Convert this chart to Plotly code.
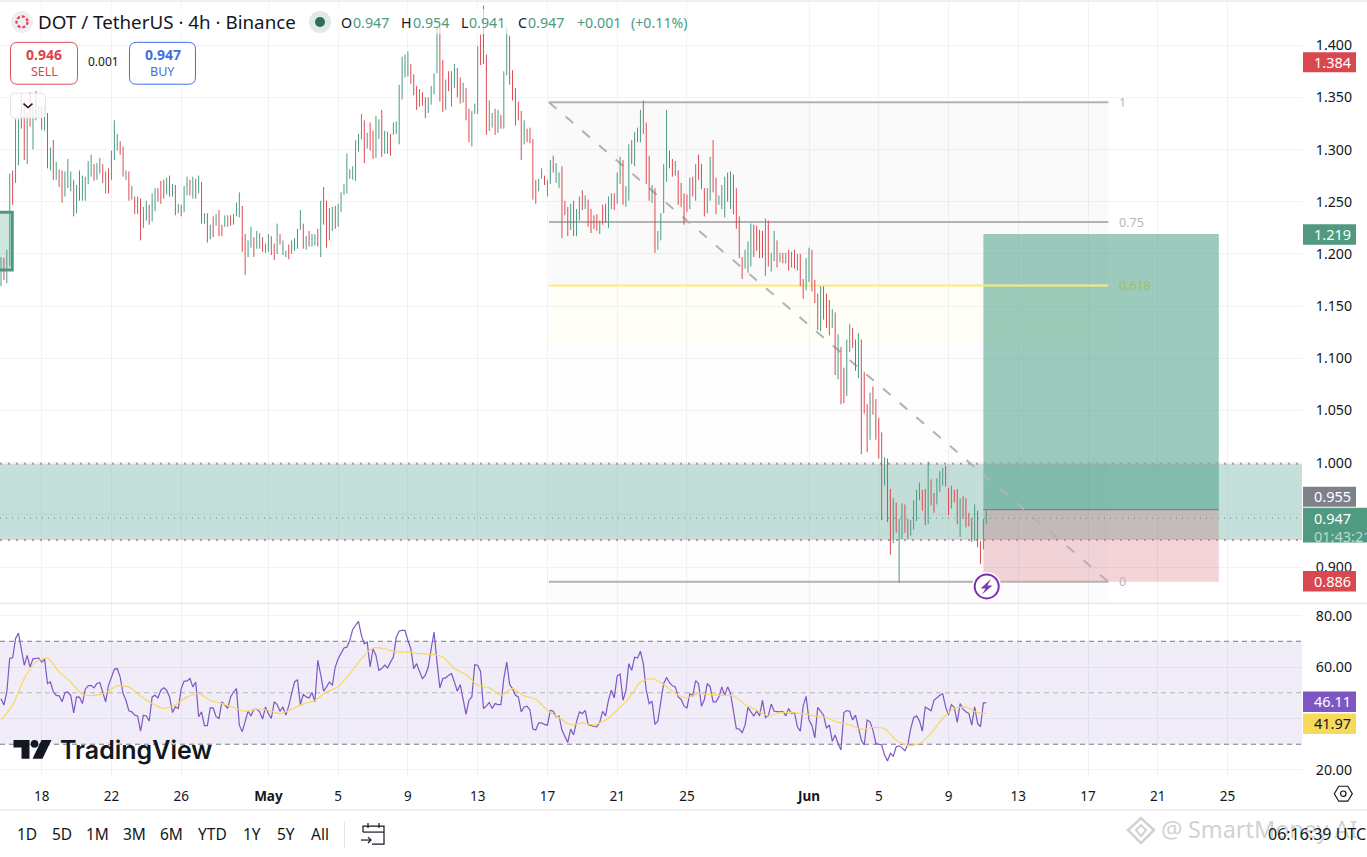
import pandas as pd
import plotly.graph_objects as go

FONT = "Noto Sans"
GREEN = "#4b9b83"
RED = "#dd4a50"
PURPLE = "#7e57c2"
YELLOW = "#f7d95c"
GRID = "#f1f2f5"
INK = "#131722"

first_bar = "2026-04-15 16:00"
highs = [
 1.197,1.196,1.204,1.277,1.280,1.329,1.329,1.353,1.347,1.336,
 1.355,1.342,1.356,1.342,1.342,1.342,1.335,1.302,1.309,1.288,
 1.281,1.280,1.279,1.291,1.279,1.271,1.266,1.280,1.275,1.274,
 1.289,1.295,1.286,1.287,1.292,1.286,1.279,1.282,1.299,1.328,
 1.315,1.308,1.303,1.280,1.279,1.265,1.255,1.255,1.253,1.245,
 1.251,1.247,1.258,1.263,1.263,1.270,1.271,1.273,1.275,1.267,
 1.266,1.248,1.247,1.265,1.274,1.271,1.274,1.272,1.275,1.269,
 1.239,1.239,1.228,1.236,1.238,1.242,1.228,1.237,1.237,1.237,
 1.238,1.249,1.259,1.246,1.219,1.213,1.226,1.216,1.222,1.220,
 1.216,1.210,1.219,1.217,1.210,1.229,1.219,1.213,1.203,1.209,
 1.213,1.215,1.224,1.242,1.229,1.217,1.222,1.219,1.219,1.224,
 1.251,1.264,1.251,1.244,1.245,1.246,1.248,1.259,1.267,1.296,
 1.281,1.284,1.309,1.315,1.334,1.328,1.316,1.326,1.318,1.332,
 1.329,1.338,1.318,1.317,1.315,1.326,1.327,1.362,1.389,1.391,
 1.394,1.382,1.372,1.361,1.358,1.355,1.350,1.350,1.361,1.373,
 1.418,1.418,1.386,1.367,1.375,1.375,1.382,1.378,1.369,1.364,
 1.359,1.339,1.337,1.344,1.399,1.410,1.438,1.391,1.347,1.335,
 1.339,1.338,1.333,1.375,1.417,1.409,1.376,1.359,1.346,1.337,
 1.328,1.320,1.321,1.310,1.271,1.272,1.282,1.275,1.271,1.290,
 1.294,1.287,1.278,1.284,1.251,1.245,1.248,1.251,1.243,1.255,
 1.261,1.256,1.252,1.243,1.237,1.238,1.232,1.247,1.248,1.255,
 1.258,1.258,1.278,1.293,1.290,1.265,1.305,1.309,1.317,1.321,
 1.338,1.347,1.326,1.294,1.266,1.263,1.222,1.239,1.286,1.338,
 1.299,1.291,1.289,1.280,1.268,1.258,1.257,1.273,1.274,1.286,
 1.295,1.286,1.263,1.263,1.293,1.309,1.273,1.256,1.266,1.274,
 1.278,1.279,1.276,1.263,1.236,1.197,1.204,1.212,1.229,1.228,
 1.227,1.223,1.222,1.234,1.232,1.201,1.222,1.213,1.201,1.201,
 1.201,1.204,1.202,1.204,1.200,1.200,1.176,1.196,1.206,1.204,
 1.175,1.162,1.169,1.169,1.162,1.156,1.147,1.144,1.123,1.111,
 1.091,1.118,1.133,1.129,1.118,1.124,1.118,1.087,1.056,1.067,
 1.073,1.061,1.043,1.029,1.005,1.004,0.975,0.966,0.962,0.946,
 0.961,0.960,0.946,0.945,0.964,0.974,0.981,0.974,0.975,1.001,
 0.984,0.971,0.985,0.992,0.995,0.997,0.976,0.978,0.974,0.975,
 0.966,0.968,0.966,0.952,0.947,0.960,0.954,0.925,0.946,0.954,
]
lows = [
 1.169,1.175,1.172,1.188,1.247,1.268,1.285,1.320,1.290,1.286,
 1.322,1.300,1.328,1.331,1.319,1.318,1.282,1.280,1.271,1.271,
 1.264,1.249,1.255,1.263,1.260,1.236,1.239,1.251,1.251,1.251,
 1.267,1.274,1.270,1.271,1.277,1.268,1.258,1.258,1.271,1.290,
 1.299,1.295,1.274,1.271,1.251,1.252,1.238,1.238,1.213,1.225,
 1.232,1.228,1.231,1.241,1.250,1.248,1.253,1.257,1.255,1.255,
 1.237,1.239,1.236,1.240,1.256,1.256,1.253,1.253,1.258,1.229,
 1.229,1.211,1.214,1.216,1.227,1.217,1.217,1.226,1.226,1.227,
 1.228,1.236,1.235,1.202,1.180,1.197,1.206,1.197,1.205,1.205,
 1.202,1.201,1.202,1.199,1.194,1.200,1.209,1.199,1.197,1.195,
 1.200,1.203,1.205,1.223,1.205,1.204,1.207,1.207,1.208,1.207,
 1.197,1.228,1.206,1.213,1.222,1.224,1.226,1.240,1.257,1.258,
 1.272,1.271,1.270,1.298,1.310,1.287,1.301,1.299,1.291,1.292,
 1.310,1.293,1.296,1.296,1.294,1.314,1.315,1.305,1.348,1.369,
 1.370,1.363,1.352,1.338,1.341,1.342,1.330,1.335,1.343,1.353,
 1.373,1.346,1.336,1.338,1.356,1.341,1.359,1.350,1.344,1.345,
 1.328,1.307,1.303,1.334,1.334,1.381,1.382,1.314,1.318,1.321,
 1.314,1.316,1.320,1.320,1.371,1.362,1.347,1.323,1.328,1.290,
 1.305,1.307,1.306,1.252,1.248,1.260,1.272,1.266,1.255,1.267,
 1.278,1.268,1.263,1.215,1.237,1.217,1.223,1.217,1.217,1.232,
 1.242,1.243,1.226,1.220,1.224,1.222,1.219,1.228,1.230,1.225,
 1.243,1.242,1.248,1.267,1.247,1.245,1.251,1.286,1.284,1.307,
 1.307,1.315,1.267,1.251,1.249,1.201,1.204,1.213,1.239,1.269,
 1.282,1.274,1.275,1.247,1.245,1.228,1.240,1.243,1.255,1.251,
 1.271,1.262,1.236,1.239,1.251,1.259,1.238,1.247,1.243,1.235,
 1.250,1.243,1.238,1.224,1.196,1.176,1.186,1.182,1.188,1.197,
 1.203,1.196,1.196,1.179,1.188,1.183,1.193,1.187,1.192,1.191,
 1.191,1.184,1.187,1.186,1.184,1.169,1.157,1.165,1.173,1.164,
 1.153,1.127,1.126,1.137,1.129,1.122,1.129,1.084,1.080,1.056,
 1.057,1.064,1.106,1.110,1.088,1.081,1.008,1.047,1.010,1.022,
 1.046,1.022,1.004,0.945,0.978,0.943,0.912,0.923,0.933,0.885,
 0.927,0.933,0.927,0.930,0.936,0.944,0.964,0.954,0.940,0.941,
 0.959,0.952,0.960,0.972,0.978,0.977,0.950,0.956,0.962,0.941,
 0.929,0.946,0.938,0.939,0.924,0.925,0.919,0.903,0.917,0.941,
]
directions = (
 "grggrggrrg" "rgrgrgrgrg" "rrgggrgrgg" "ggrggrgrgg" "grrgrgrgrg"
 "grggrrrgrg" "rgrggrgrgr" "grgrgrrggr" "gggrrggrgg" "rggrrgrggr"
 "ggggrgrggr" "grrggrgggg" "gggggrgrrg" "grggrggggg" "grrrgrrggg"
 "grrgrggrrg" "rrgggrrrgg" "rgrggrrrrr" "grrrrggrgg" "rggrrrgrgg"
 "rgrrrrgrrg" "grggrggrgg" "grrrgrgggg" "rrgrrrrgrg" "rrrggrrggg"
 "rgrrrrgggr" "rrrgrggrgr" "grgrgrrggr" "rrgrrrgrgr" "rggrrgrrrg"
 "rrrrgrrgrg" "grrggggrrg" "rrgggrrgrr" "grrrrgrrgg"
)
rsi = [
 47.7,45.2,50.3,63.5,63.5,71.0,73.2,67.1,60.7,64.5,
 60.0,63.2,63.5,63.5,61.9,63.0,53.6,54.2,50.3,49.0,
 48.8,46.5,50.1,50.3,49.0,42.2,48.4,48.3,45.8,51.4,
 52.7,52.9,51.9,53.6,54.0,49.7,46.5,52.9,56.1,59.1,
 59.4,56.1,49.7,47.1,43.0,42.6,41.3,41.0,35.1,41.3,
 41.0,39.0,48.4,49.0,48.0,51.0,51.9,51.0,48.4,42.3,
 44.5,43.9,51.6,54.5,54.5,55.5,52.3,54.2,40.7,42.6,
 37.2,37.2,44.1,44.1,40.7,40.0,46.5,45.2,43.9,48.4,
 50.3,51.6,37.4,34.9,38.7,42.8,41.0,43.6,43.6,42.6,
 39.8,44.5,41.9,40.0,46.5,45.4,42.8,44.5,41.3,44.9,
 49.7,54.2,55.1,45.4,49.4,48.4,48.0,50.1,46.5,62.6,
 57.0,50.6,52.3,54.2,52.9,60.0,63.2,65.2,67.4,67.7,
 70.3,74.6,76.1,77.7,72.3,69.0,69.7,60.0,67.1,64.5,
 58.7,59.4,60.7,59.6,61.9,63.9,71.6,74.0,74.2,74.2,
 70.3,67.1,59.4,61.3,58.3,55.5,56.8,60.0,67.1,73.6,
 61.9,51.9,55.5,55.8,56.8,57.4,54.2,50.6,53.2,47.7,
 41.6,47.1,48.4,60.9,60.7,58.3,43.9,44.9,46.2,43.9,
 45.8,45.4,45.4,
 55.5,61.9,53.2,51.6,49.0,48.4,42.6,44.5,44.8,43.2,
 35.9,35.5,38.3,38.3,37.7,37.4,43.2,42.8,40.7,41.0,
 35.5,32.9,30.7,35.9,33.6,38.7,42.6,41.9,43.2,37.7,
 37.2,36.9,36.8,38.5,42.8,41.0,47.1,51.0,48.0,56.5,
 57.3,47.1,50.6,61.3,58.7,63.8,63.5,66.1,61.3,51.0,
 45.8,46.7,37.7,39.0,46.5,53.6,55.9,53.9,52.7,52.3,
 48.4,47.4,44.9,44.1,49.7,48.8,54.7,53.6,44.8,47.4,
 53.6,52.3,46.5,46.5,48.4,52.3,49.0,52.3,49.7,41.9,
 36.1,35.9,34.5,37.4,44.3,42.6,41.0,42.8,41.0,47.1,
 40.4,41.0,45.6,42.8,42.6,42.6,42.8,41.0,43.9,41.9,
 42.3,36.8,35.1,44.9,48.6,39.4,37.4,32.5,44.3,42.8,
 41.3,36.4,37.4,31.2,33.6,30.3,27.8,42.3,43.1,42.8,
 39.4,41.3,36.4,31.6,29.7,39.4,38.7,35.5,30.3,29.9,
 29.7,25.8,23.5,26.5,25.4,29.0,29.4,28.6,27.5,29.9,
 36.1,40.3,41.0,39.1,35.1,44.5,43.9,43.0,47.1,48.1,
 49.0,49.6,44.5,41.3,45.4,44.3,38.5,45.8,43.6,42.6,
 42.0,37.4,44.5,38.1,36.8,46.1,46.11,
]
# RSI moving average, read every 4th bar, then the last bar
rsi_ma = [
 39.4,45.2,55.5,61.9,63.5,58.1,54.2,49.3,49.0,50.0,
 52.7,52.3,48.7,45.8,43.9,45.2,48.4,49.7,47.1,45.8,
 44.3,42.8,43.6,43.2,41.9,43.6,45.6,47.1,50.3,52.3,
 57.4,63.2,67.4,67.1,65.8,65.8,65.2,64.9,63.9,59.4,
 57.0,52.9,51.9,49.0,
 51.6,48.8,47.5,43.2,40.3,37.5,38.3,37.5,39.4,43.2,
 47.8,54.2,55.5,53.2,49.7,48.0,49.7,49.3,49.0,48.8,
 45.4,43.2,41.0,42.3,42.3,41.9,41.0,40.3,38.5,37.5,
 35.9,36.5,36.1,31.6,29.4,30.3,34.2,40.0,43.9,44.4,
 42.3,41.97,
]
x_tick_dates = ["2026-04-18","2026-04-22","2026-04-26","2026-05-01","2026-05-05","2026-05-09",
                "2026-05-13","2026-05-17","2026-05-21","2026-05-25","2026-06-01","2026-06-05",
                "2026-06-09","2026-06-13","2026-06-17","2026-06-21","2026-06-25"]
x_tick_text = ["18","22","26","<b>May</b>","5","9","13","17","21","25","<b>Jun</b>","5","9","13","17","21","25"]
price_ticks = [0.90,0.95,1.00,1.05,1.10,1.15,1.20,1.25,1.30,1.35,1.40]
price_tick_text = ["0.900","","1.000","1.050","1.100","1.150","1.200","1.250","1.300","1.350","1.400"]
rsi_ticks = [20,40,60,80]
rsi_tick_text = ["20.00","","60.00","80.00"]
x_range = ["2026-04-15 14:37","2026-06-29 06:29"]
price_range = [0.8657,1.4423]
rsi_range = [17.56,84.53]

fib_start, fib_end = "2026-05-17 02:00","2026-06-18 04:00"
fib_levels = [("1",1.3453),("0.75",1.2305),("0.618",1.1698),("0",0.886)]
fib_half = 1.1155
zone_top, zone_bottom = 0.9989, 0.9260
long_start, long_end = "2026-06-11 00:00","2026-06-24 12:00"
long_target, long_entry, long_stop = 1.219, 0.955, 0.886
last_price = 0.947
left_box = ("2026-04-14 00:00","2026-04-16 07:30",1.1846,1.240)

W, H = 1367, 857
OY = 1.0
px = lambda x: x / W
py = lambda y: 1 - (y + OY) / H

assert len(highs) == len(lows) == len(directions) == 340, (len(highs), len(lows), len(directions))
assert len(rsi) == 340, len(rsi)

bar_times = pd.date_range(first_bar, periods=340, freq="4h")
opens = [l if d == "g" else h for h, l, d in zip(highs, lows, directions)]
closes = [h if d == "g" else l for h, l, d in zip(highs, lows, directions)]
ma_index = list(range(0, 340, 4)) + [339]
assert len(ma_index) == len(rsi_ma), (len(ma_index), len(rsi_ma))

fig = go.Figure()
fig.add_trace(go.Ohlc(x=bar_times, open=opens, high=highs, low=lows, close=closes, tickwidth=0,
                      increasing=dict(line=dict(color=GREEN, width=1)),
                      decreasing=dict(line=dict(color=RED, width=1)),
                      hoverinfo="skip", showlegend=False, xaxis="x", yaxis="y"))
fig.add_trace(go.Scatter(x=bar_times, y=rsi, mode="lines", line=dict(color=PURPLE, width=1.2),
                         hoverinfo="skip", showlegend=False, xaxis="x2", yaxis="y2"))
fig.add_trace(go.Scatter(x=bar_times[ma_index], y=rsi_ma, mode="lines", line=dict(color=YELLOW, width=1.2, shape="spline", smoothing=0.6),
                         hoverinfo="skip", showlegend=False, xaxis="x2", yaxis="y2"))

shapes, notes = [], []

def rect_d(x0, x1, y0, y1, fill, line=None, lw=0, layer="between", xr="x", yr="y"):
    shapes.append(dict(type="rect", xref=xr, yref=yr, x0=x0, x1=x1, y0=y0, y1=y1, fillcolor=fill,
                       line=dict(color=line or "rgba(0,0,0,0)", width=lw), layer=layer))

def line_d(x0, x1, y0, y1, color, w=1, dash="solid", layer="between", xr="x", yr="y"):
    shapes.append(dict(type="line", xref=xr, yref=yr, x0=x0, x1=x1, y0=y0, y1=y1,
                       line=dict(color=color, width=w, dash=dash), layer=layer))

def ui_rect(x0, y0, x1, y1, fill, line=None, lw=0):
    shapes.append(dict(type="rect", xref="paper", yref="paper", x0=px(x0), x1=px(x1), y0=py(y1), y1=py(y0),
                       fillcolor=fill, line=dict(color=line or "rgba(0,0,0,0)", width=lw), layer="above"))

def ui_line(x0, y0, x1, y1, color, w=1):
    shapes.append(dict(type="line", xref="paper", yref="paper", x0=px(x0), x1=px(x1), y0=py(y0), y1=py(y1),
                       line=dict(color=color, width=w), layer="above"))

def ui_path(points, fill="rgba(0,0,0,0)", line=None, lw=0, close=True):
    d = "M " + " L ".join(f"{px(a):.5f},{py(b):.5f}" for a, b in points) + (" Z" if close else "")
    shapes.append(dict(type="path", xref="paper", yref="paper", path=d, fillcolor=fill,
                       line=dict(color=line or "rgba(0,0,0,0)", width=lw), layer="above"))

def ui_round(x0, y0, x1, y1, r, fill, line, lw=1):
    q = lambda a, b: f"{px(a):.5f},{py(b):.5f}"
    d = (f"M {q(x0+r,y0)} L {q(x1-r,y0)} Q {q(x1,y0)} {q(x1,y0+r)} L {q(x1,y1-r)} Q {q(x1,y1)} {q(x1-r,y1)} "
         f"L {q(x0+r,y1)} Q {q(x0,y1)} {q(x0,y1-r)} L {q(x0,y0+r)} Q {q(x0,y0)} {q(x0+r,y0)} Z")
    shapes.append(dict(type="path", xref="paper", yref="paper", path=d, fillcolor=fill,
                       line=dict(color=line, width=lw), layer="above"))

def ui_circle(cx, cy, r, fill, line=None, lw=0, dash="solid"):
    shapes.append(dict(type="circle", xref="paper", yref="paper", x0=px(cx-r), x1=px(cx+r), y0=py(cy+r), y1=py(cy-r),
                       fillcolor=fill, line=dict(color=line or "rgba(0,0,0,0)", width=lw, dash=dash), layer="above"))

def text(x, y, s, size=13, color=INK, anchor="left", weight=None, family=FONT):
    f = dict(family=family, size=size, color=color)
    if weight:
        f["weight"] = weight
    notes.append(dict(xref="paper", yref="paper", x=px(x), y=py(y), text=s, showarrow=False, xanchor=anchor,
                      yanchor="middle", font=f, borderpad=0, align="left"))

# fibonacci background
rect_d(fib_start, fib_end, fib_levels[2][1], fib_levels[0][1], "rgba(120,120,120,0.04)")
rect_d(fib_start, fib_end, fib_half, fib_levels[2][1], "rgba(255,240,90,0.05)")
rect_d(fib_start, fib_end, fib_levels[3][1], fib_half, "rgba(120,120,120,0.012)")
rect_d(fib_start, fib_end, price_range[0], fib_levels[3][1], "rgba(120,120,120,0.02)")
# support zone
rect_d(x_range[0], x_range[1], zone_bottom, zone_top, "rgba(62,152,132,0.30)")
# long position
rect_d(long_start, long_end, long_entry, long_target, "rgba(75,159,135,0.55)")
rect_d(long_start, long_end, long_stop, long_entry, "rgba(195,40,65,0.20)")
line_d(long_start, long_end, long_entry, long_entry, "#7d7f88", 1.2)
for yv in (zone_top, zone_bottom):
    line_d(x_range[0], x_range[1], yv, yv, "#d08a8a", 2, "2px,6px")
line_d(x_range[0], x_range[1], last_price, last_price, "#4f8f7c", 1, "1px,5px")
# fib lines
for name, lv in fib_levels:
    col = "#ffe97a" if name == "0.618" else "#b2b2b2"
    line_d(fib_start, fib_end, lv, lv, col, 2)
    notes.append(dict(xref="x", yref="y", x=fib_end, y=lv, text=name, showarrow=False, xanchor="left", yanchor="middle",
                      xshift=9, font=dict(family=FONT, size=12.5, color="#a5bd62" if name == "0.618" else "#b8b8b8")))
line_d(fib_start, fib_end, fib_levels[0][1], fib_levels[3][1], "#b2b2b2", 2, "10px,12px")
# old box at the left edge
rect_d(left_box[0], left_box[1], left_box[2], left_box[3], "rgba(62,152,132,0.25)", GREEN, 3)
# RSI band
rect_d(x_range[0], x_range[1], 30, 70, "rgba(126,87,194,0.115)", xr="x2", yr="y2")
for lv, col in ((70, "#787b86"), (50, "#b4b4bc"), (30, "#787b86")):
    line_d(x_range[0], x_range[1], lv, lv, col, 1, "5px,4px", xr="x2", yr="y2")

# frame lines
ui_line(0, 604.5, W, 604.5, "#e3e5ea", 1.2)
ui_line(0, 812, W, 812, "#e3e5ea", 1.2)
ui_line(0, 0.2, W, 0.2, "#e3e5ea", 1.2)

# header
ui_rect(0, 8, 700, 33, "rgba(255,255,255,0.65)")
ui_circle(22, 21, 11, "#f0eef5")
ui_circle(22, 21, 5.5, "rgba(0,0,0,0)", "#e0454f", 2.2, "3px,2px")
text(37, 21.5, "DOT&nbsp;/&nbsp;TetherUS · 4h · Binance", 18.8)
ui_circle(320, 21, 11, "#dfe9e6")
ui_circle(320, 21, 5, "#2e6b5a")
for x_lab, lab, x_val, val in ((340, "O", 352, "0.947"), (400, "H", 412, "0.954"),
                               (460, "L", 468, "0.941"), (517, "C", 527, "0.947")):
    text(x_lab, 21.5, lab, 14.2)
    text(x_val, 21.5, val, 14.2, GREEN)
text(576, 21.5, "+0.001", 14.2, GREEN)
text(630, 21.5, "(+0.11%)", 14.2, GREEN)

# sell / buy
ui_round(10.5, 41.5, 77.5, 83.5, 7, "white", "#d9505a", 1)
text(44, 53.5, "0.946", 14, "#d9454f", "center", 700)
text(44, 70.5, "SELL", 12.5, "#d9454f", "center")
text(103, 61, "0.001", 12, INK, "center")
ui_round(129.5, 41.5, 195.5, 83.5, 7, "white", "#3f6fe8", 1)
text(162.5, 53.5, "0.947", 14, "#3f6fe8", "center", 700)
text(162.5, 70.5, "BUY", 12.5, "#3f6fe8", "center")
ui_round(10.5, 92.5, 45.5, 117.5, 4, "rgba(255,255,255,0.8)", "#e0e3e8", 1)
ui_path([(23.5, 103), (28, 107), (32.5, 103)], line=INK, lw=1.5, close=False)

# price tags
tag_font = 14.5
def tag(y0, y1, fill, s, color="white", x1=1356):
    ui_rect(1303, y0, x1, y1, fill)
    text(1313, (y0 + y1) / 2 - 0.5, s, tag_font, color)
tag(51.5, 71.5, "#d9474f", "1.384")
tag(224, 244.5, "#4f9a80", "1.219")
tag(487.5, 507.5, "#7f818a", "0.955")
tag(572, 592.5, "#d9474f", "0.886")
ui_rect(1303, 508.5, W, 543.5, "#4f9a80")
text(1313, 519, "0.947", tag_font, "white")
text(1313, 537, "01:43:21", tag_font, "#b9dcd0")
tag(693, 713.5, PURPLE, "46.11")
tag(715, 735.5, YELLOW, "41.97", INK)

# lightning mark
ui_circle(986.7, 587.5, 14.5, "white")
ui_circle(986.7, 587.5, 12, "white", "#7b2fb0", 2)
ui_path([(991, 580), (980.5, 589.5), (985.5, 589.5), (982, 595.5), (992.5, 586.5), (987.5, 586.5)], fill="#7b3fb5")

# TradingView logo
ui_path([(13.5, 741.5), (29.5, 741.5), (29.5, 760.5), (21.5, 760.5), (21.5, 749), (13.5, 749)], fill="#131722")
ui_circle(34.5, 745.5, 3.8, "#131722")
ui_path([(41.5, 741.5), (51.5, 741.5), (42.5, 760.5), (32.5, 760.5)], fill="#131722")
text(59, 751.5, "TradingView", 25, "#131722", weight=600, family="Inter")

# settings icon
cx, cy = 1343.3, 795.5
ui_path([(cx-9, cy), (cx-4.5, cy-7.5), (cx+4.5, cy-7.5), (cx+9, cy), (cx+4.5, cy+7.5), (cx-4.5, cy+7.5)], line=INK, lw=1.2)
ui_circle(cx, cy, 2.7, "white", INK, 1.2)

# bottom toolbar
for xc, lab in ((27, "1D"), (62, "5D"), (97, "1M"), (134, "3M"), (171, "6M"), (212, "YTD"), (252, "1Y"), (286, "5Y"), (320, "All")):
    text(xc, 835.5, lab, 15.5, INK, "center")
ui_line(344.5, 823, 344.5, 850, "#e0e3e8", 1)
ui_path([(363, 834), (363, 828), (384, 828), (384, 846), (372, 846)], line=INK, lw=1.2, close=False)
ui_line(363, 834, 384, 834, INK, 1.2)
ui_line(368, 825, 368, 830, INK, 1.2)
ui_line(379, 825, 379, 830, INK, 1.2)
ui_path([(361, 842), (371, 842)], line=INK, lw=1.2, close=False)
ui_path([(368, 839), (371, 842), (368, 845)], line=INK, lw=1.2, close=False)

# watermark and clock
wm = "rgba(170,170,170,0.55)"
ui_path([(1141, 820), (1154, 832), (1141, 845), (1128, 832)], line=wm, lw=2.5)
ui_path([(1141, 827), (1146, 832), (1141, 838), (1136, 832)], line=wm, lw=2)
text(1160, 830, "@", 24, wm, "left")
text(1187, 831, "SmartMoney AI", 23.4, wm, "left")
text(1267, 836, "06:16:39 UTC", 16, "#131722", "left")

axis_common = dict(showline=False, zeroline=False)
tick_font = dict(family=FONT, size=14.2, color=INK)
fig.update_layout(
    width=W, height=H, margin=dict(l=0, r=0, t=0, b=0), autosize=False,
    paper_bgcolor="white", plot_bgcolor="white", showlegend=False,
    font=dict(family=FONT, size=13, color=INK), hovermode=False,
    xaxis=dict(domain=[0, 1302 / W], anchor="y", type="date", range=x_range, tickmode="array", tickvals=x_tick_dates,
               ticktext=x_tick_text, showticklabels=False, showgrid=True, gridcolor=GRID, gridwidth=1,
               rangeslider=dict(visible=False), **axis_common),
    xaxis2=dict(domain=[0, 1302 / W], anchor="y2", type="date", range=x_range, matches="x", tickmode="array",
                tickvals=x_tick_dates, ticktext=x_tick_text, showgrid=True, gridcolor=GRID, gridwidth=1,
                tickfont=dict(family=FONT, size=13.5, color=INK), ticks="outside", ticklen=8,
                tickcolor="rgba(0,0,0,0)", tickangle=0, **axis_common),
    yaxis=dict(domain=[py(604), py(0)], anchor="x", side="right", range=price_range, tickmode="array", tickvals=price_ticks,
               ticktext=price_tick_text, showgrid=True, gridcolor=GRID, gridwidth=1, ticks="outside", ticklen=10,
               tickcolor="rgba(0,0,0,0)", tickfont=tick_font, **axis_common),
    yaxis2=dict(domain=[py(778), py(605)], anchor="x2", side="right", range=rsi_range, tickmode="array", tickvals=rsi_ticks,
                ticktext=rsi_tick_text, showgrid=True, gridcolor=GRID, gridwidth=1, ticks="outside", ticklen=10,
                tickcolor="rgba(0,0,0,0)", tickfont=tick_font, **axis_common),
    shapes=shapes, annotations=notes,
)

fig.write_html("out.html", config=dict(displayModeBar=False),
               post_script="document.body.style.margin='0';document.body.style.overflow='hidden';")
